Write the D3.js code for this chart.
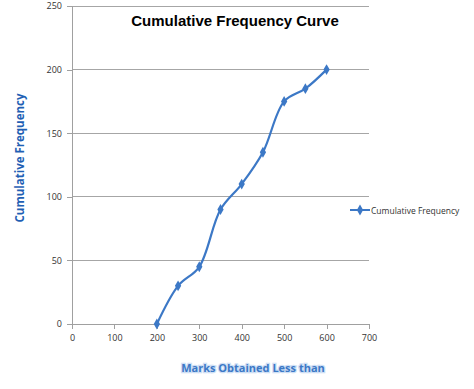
<!DOCTYPE html>
<html><head><meta charset="utf-8">
<script src="https://cdn.jsdelivr.net/npm/d3@7"></script>
<style>body{margin:0;background:#fff}svg{display:block}</style>
</head><body><svg id="c" width="474" height="389"></svg>
<script>
const marks = [200, 250, 300, 350, 400, 450, 500, 550, 600];
const cumFreq = [0, 30, 45, 90, 110, 135, 175, 185, 200];
const xTicks = [0, 100, 200, 300, 400, 500, 600, 700];
const yTicks = [0, 50, 100, 150, 200, 250];
const seriesName = "Cumulative Frequency";

const svg = d3.select("#c");
const x = d3.scaleLinear().domain([0, 700]).range([72, 369]);
const y = d3.scaleLinear().domain([0, 250]).range([324, 6]);
const col = "#3C78C6";
const font = "'Open Sans', 'DejaVu Sans', sans-serif";

// gridlines
svg.append("g").selectAll("line").data(yTicks.filter(d => d > 0)).join("line")
  .attr("x1", x(0)).attr("x2", x(700)).attr("y1", d => y(d)).attr("y2", d => y(d))
  .attr("stroke", "#a6a6a6").attr("stroke-width", 1).attr("shape-rendering", "crispEdges");

const ya = svg.append("g").attr("transform", `translate(${x(0)},0)`)
  .call(d3.axisLeft(y).tickValues(yTicks).tickSize(5).tickPadding(5));
const xa = svg.append("g").attr("transform", `translate(0,${y(0)})`)
  .call(d3.axisBottom(x).tickValues(xTicks).tickSize(5).tickPadding(6));
[ya, xa].forEach(a => {
  a.selectAll("path,line").attr("stroke", "#a0a0a0").attr("shape-rendering", "crispEdges");
  a.selectAll("text").attr("fill", "#333").attr("font-family", font).attr("font-size", 9);
});
xa.select(".domain").attr("d", `M${x(0)},0.5H${x(700)}`);
ya.select(".domain").attr("d", `M0.5,${y(0)}V${y(250)}`);

const pts = marks.map((m, i) => [m, cumFreq[i]]);
const line = d3.line().x(d => x(d[0])).y(d => y(d[1])).curve(d3.curveCatmullRom.alpha(0.5));
svg.append("path").attr("d", line(pts)).attr("fill", "none").attr("stroke", col).attr("stroke-width", 2.2);

const diamond = d3.symbol().type(d3.symbolDiamond).size(34);
svg.append("g").selectAll("path").data(pts).join("path")
  .attr("transform", d => `translate(${x(d[0])},${y(d[1])})`)
  .attr("d", diamond).attr("fill", col);

// title
svg.append("text").attr("x", 235).attr("y", 26).attr("text-anchor", "middle")
  .attr("font-family", "'Liberation Sans', Arial, sans-serif").attr("font-weight", "bold")
  .attr("font-size", 15).attr("fill", "#000").text("Cumulative Frequency Curve");

// y label
svg.append("text").attr("transform", "translate(24,158) rotate(-90)").attr("text-anchor", "middle")
  .attr("font-family", font).attr("font-weight", "bold").attr("font-size", 11.5)
  .attr("fill", "#1F5FB4").text("Cumulative Frequency");

// x label
svg.append("text").attr("x", 253).attr("y", 372).attr("text-anchor", "middle")
  .attr("font-family", font).attr("font-weight", "bold").attr("font-size", 11)
  .attr("fill", "#3C78C6").attr("stroke", "#cfe0f5").attr("stroke-width", 2.5)
  .attr("paint-order", "stroke").text("Marks Obtained Less than");

// legend
const lg = svg.append("g").attr("transform", "translate(350,210)");
lg.append("line").attr("x1", 0).attr("x2", 20).attr("y1", 0).attr("y2", 0).attr("stroke", col).attr("stroke-width", 2);
lg.append("path").attr("transform", "translate(10,0)").attr("d", diamond).attr("fill", col);
lg.append("text").attr("x", 21).attr("y", 3.5).attr("font-family", font).attr("font-size", 8.5)
  .attr("fill", "#333").text(seriesName);
</script></body></html>
